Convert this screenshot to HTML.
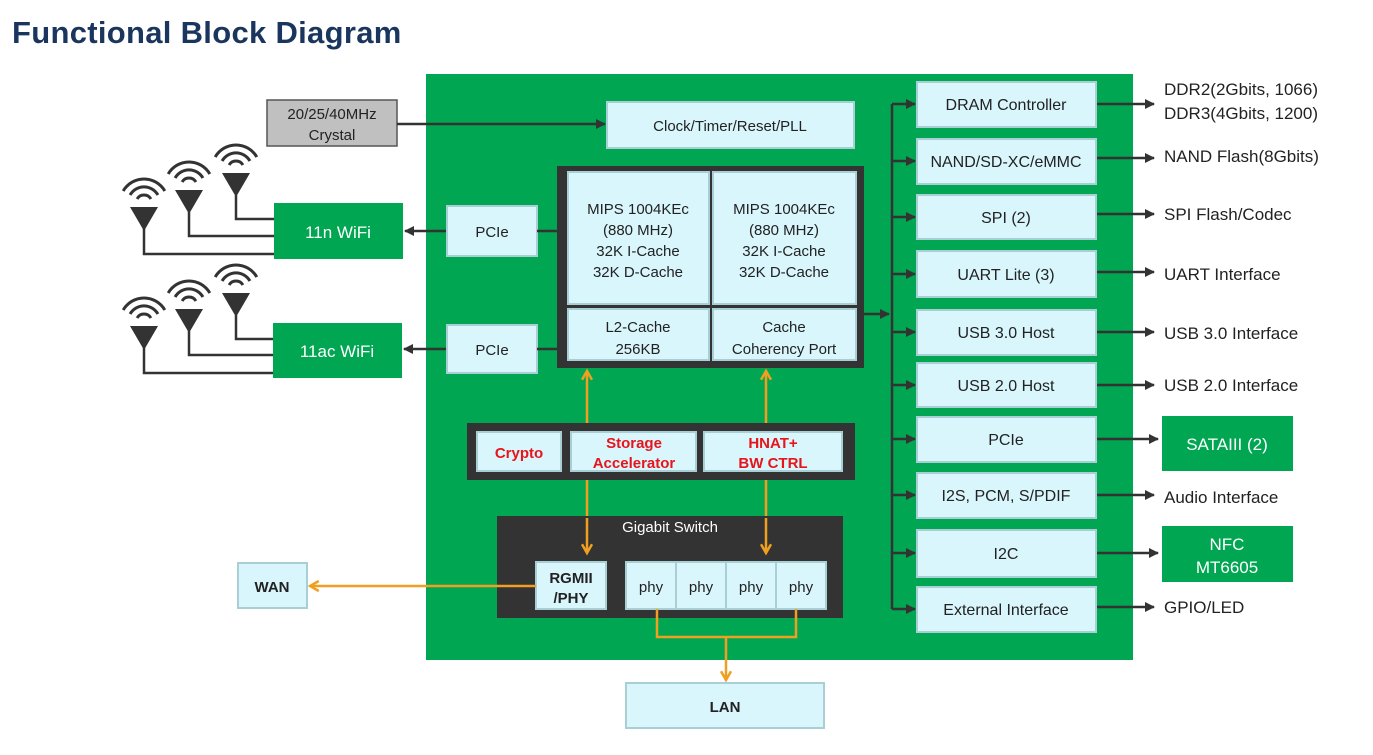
<!DOCTYPE html>
<html><head><meta charset="utf-8"><style>
html,body{margin:0;padding:0;background:#fff;}
svg{display:block;font-family:"Liberation Sans",sans-serif;}
.lb{fill:#d8f6fc;stroke:#a9cfd6;stroke-width:2;}
.t{font-size:15px;fill:#222;text-anchor:middle;}
.tr{font-size:17px;fill:#222;}
.w{font-size:17px;fill:#fff;text-anchor:middle;}
.red{font-size:15px;fill:#e8141b;font-weight:bold;text-anchor:middle;}
.ln{stroke:#333;stroke-width:2.5;fill:none;}
.or{stroke:#f0a020;stroke-width:2.5;fill:none;}
</style></head><body>
<svg width="1373" height="755" viewBox="0 0 1373 755">
<defs>
<marker id="a" viewBox="0 0 10 10" refX="9" refY="5" markerWidth="4" markerHeight="4" orient="auto"><path d="M0,0L10,5L0,10z" fill="#333"/></marker>
<marker id="o" viewBox="0 0 10 10" refX="8" refY="5" markerWidth="5" markerHeight="5" orient="auto"><path d="M1,1L8,5L1,9" fill="none" stroke="#f0a020" stroke-width="2"/></marker>
<g id="an"><polygon points="-14,0 14,0 0,24" fill="#333"/><path d="M-6.9 -8A8 8 0 0 1 6.9 -8M-13.9 -12A16 16 0 0 1 13.9 -12M-20.8 -16A24 24 0 0 1 20.8 -16" stroke="#333" stroke-width="3" fill="none"/></g>
</defs>
<text x="12" y="43" style="font-size:31px;font-weight:bold;fill:#1a365f;letter-spacing:0.3px">Functional Block Diagram</text>

<rect x="426" y="74" width="707" height="586" fill="#00a651"/>

<rect x="267" y="100" width="130" height="46" fill="#c0c0c0" stroke="#555" stroke-width="1.5"/>
<text class="t" x="332" y="119">20/25/40MHz</text><text class="t" x="332" y="140">Crystal</text>
<line class="ln" x1="397" y1="124" x2="605" y2="124" marker-end="url(#a)"/>
<rect class="lb" x="607" y="102" width="247" height="46"/>
<text class="t" x="730" y="131">Clock/Timer/Reset/PLL</text>

<use href="#an" x="144" y="207"/><use href="#an" x="189" y="190"/><use href="#an" x="236" y="173"/>
<path class="ln" d="M144 228V254H274M189 212V236H274M236 195V219H274"/>
<use href="#an" x="144" y="326"/><use href="#an" x="189" y="309"/><use href="#an" x="236" y="293"/>
<path class="ln" d="M144 347V373H274M189 331V355H274M236 315V339H274"/>
<rect x="274" y="203" width="129" height="56" fill="#00a651"/><text class="w" x="338" y="238">11n WiFi</text>
<rect x="273" y="323" width="129" height="55" fill="#00a651"/><text class="w" x="337" y="357">11ac WiFi</text>
<line class="ln" x1="447" y1="231" x2="405" y2="231" marker-end="url(#a)"/>
<line class="ln" x1="447" y1="349" x2="404" y2="349" marker-end="url(#a)"/>
<rect class="lb" x="447" y="206" width="90" height="50"/><text class="t" x="492" y="237">PCIe</text>
<rect class="lb" x="447" y="325" width="90" height="48"/><text class="t" x="492" y="355">PCIe</text>
<line class="ln" x1="537" y1="231" x2="557" y2="231"/><line class="ln" x1="537" y1="349" x2="557" y2="349"/>

<rect x="557" y="166" width="307" height="202" fill="#333"/>
<rect class="lb" x="568" y="172" width="141" height="132"/>
<rect class="lb" x="713" y="172" width="143" height="132"/>
<rect class="lb" x="568" y="309" width="141" height="51"/>
<rect class="lb" x="713" y="309" width="143" height="51"/>
<g class="t"><text x="638" y="214">MIPS 1004KEc</text><text x="638" y="235">(880 MHz)</text><text x="638" y="256">32K I-Cache</text><text x="638" y="277">32K D-Cache</text>
<text x="784" y="214">MIPS 1004KEc</text><text x="784" y="235">(880 MHz)</text><text x="784" y="256">32K I-Cache</text><text x="784" y="277">32K D-Cache</text>
<text x="638" y="332">L2-Cache</text><text x="638" y="354">256KB</text>
<text x="784" y="332">Cache</text><text x="784" y="354">Coherency Port</text></g>

<path class="or" d="M587 423V371" marker-end="url(#o)"/><path class="or" d="M766 423V371" marker-end="url(#o)"/>
<path class="or" d="M587 480V553" marker-end="url(#o)"/><path class="or" d="M766 480V553" marker-end="url(#o)"/>
<rect x="467" y="423" width="388" height="57" fill="#333"/>
<rect class="lb" x="477" y="432" width="84" height="39"/><rect class="lb" x="571" y="432" width="125" height="39"/><rect class="lb" x="704" y="432" width="138" height="39"/>
<text class="red" x="519" y="458">Crypto</text><text class="red" x="634" y="448">Storage</text><text class="red" x="634" y="468">Accelerator</text>
<text class="red" x="773" y="448">HNAT+</text><text class="red" x="773" y="468">BW CTRL</text>

<rect x="497" y="516" width="346" height="102" fill="#333"/>
<text x="670" y="532" style="font-size:15px;fill:#fff;text-anchor:middle">Gigabit Switch</text>
<path class="or" d="M587 518V553" marker-end="url(#o)"/><path class="or" d="M766 518V553" marker-end="url(#o)"/>
<rect class="lb" x="536" y="562" width="70" height="47"/><text x="571" y="583" style="font-size:15px;font-weight:bold;fill:#222;text-anchor:middle">RGMII</text><text x="571" y="603" style="font-size:15px;font-weight:bold;fill:#222;text-anchor:middle">/PHY</text>
<rect class="lb" x="626" y="562" width="50" height="47"/><rect class="lb" x="676" y="562" width="50" height="47"/><rect class="lb" x="726" y="562" width="50" height="47"/><rect class="lb" x="776" y="562" width="50" height="47"/>
<g class="t"><text x="651" y="592">phy</text><text x="701" y="592">phy</text><text x="751" y="592">phy</text><text x="801" y="592">phy</text></g>
<path class="or" d="M536 586H310" marker-end="url(#o)"/>
<rect class="lb" x="238" y="563" width="69" height="45"/><text x="272" y="592" style="font-size:15px;font-weight:bold;fill:#222;text-anchor:middle">WAN</text>
<path class="or" d="M657 609V637H796V609M726 637V680" marker-end="url(#o)"/>
<rect class="lb" x="626" y="683" width="198" height="45"/><text x="725" y="712" style="font-size:15px;font-weight:bold;fill:#222;text-anchor:middle">LAN</text>

<line class="ln" x1="864" y1="314" x2="889" y2="314" marker-end="url(#a)"/>
<line class="ln" x1="892" y1="104" x2="892" y2="609"/>
<g class="ln">
<line x1="892" y1="104" x2="915" y2="104" marker-end="url(#a)"/>
<line x1="892" y1="161" x2="915" y2="161" marker-end="url(#a)"/>
<line x1="892" y1="217" x2="915" y2="217" marker-end="url(#a)"/>
<line x1="892" y1="274" x2="915" y2="274" marker-end="url(#a)"/>
<line x1="892" y1="332" x2="915" y2="332" marker-end="url(#a)"/>
<line x1="892" y1="385" x2="915" y2="385" marker-end="url(#a)"/>
<line x1="892" y1="439" x2="915" y2="439" marker-end="url(#a)"/>
<line x1="892" y1="495" x2="915" y2="495" marker-end="url(#a)"/>
<line x1="892" y1="553" x2="915" y2="553" marker-end="url(#a)"/>
<line x1="892" y1="609" x2="915" y2="609" marker-end="url(#a)"/>
<line x1="1096" y1="104" x2="1154" y2="104" marker-end="url(#a)"/>
<line x1="1096" y1="158" x2="1154" y2="158" marker-end="url(#a)"/>
<line x1="1096" y1="214" x2="1154" y2="214" marker-end="url(#a)"/>
<line x1="1096" y1="272" x2="1154" y2="272" marker-end="url(#a)"/>
<line x1="1096" y1="332" x2="1154" y2="332" marker-end="url(#a)"/>
<line x1="1096" y1="385" x2="1154" y2="385" marker-end="url(#a)"/>
<line x1="1096" y1="439" x2="1158" y2="439" marker-end="url(#a)"/>
<line x1="1096" y1="495" x2="1154" y2="495" marker-end="url(#a)"/>
<line x1="1096" y1="553" x2="1158" y2="553" marker-end="url(#a)"/>
<line x1="1096" y1="607" x2="1154" y2="607" marker-end="url(#a)"/>
</g>
<g>
<rect class="lb" x="917" y="82" width="179" height="45"/><rect class="lb" x="917" y="139" width="179" height="45"/>
<rect class="lb" x="917" y="195" width="179" height="44"/><rect class="lb" x="917" y="251" width="179" height="46"/>
<rect class="lb" x="917" y="310" width="179" height="45"/><rect class="lb" x="917" y="363" width="179" height="44"/>
<rect class="lb" x="917" y="417" width="179" height="45"/><rect class="lb" x="917" y="473" width="179" height="45"/>
<rect class="lb" x="917" y="530" width="179" height="47"/><rect class="lb" x="917" y="587" width="179" height="45"/>
</g>
<g class="t" style="font-size:16px">
<text x="1006" y="110">DRAM Controller</text><text x="1006" y="167">NAND/SD-XC/eMMC</text>
<text x="1006" y="223">SPI (2)</text><text x="1006" y="280">UART Lite (3)</text>
<text x="1006" y="338">USB 3.0 Host</text><text x="1006" y="391">USB 2.0 Host</text>
<text x="1006" y="445">PCIe</text><text x="1006" y="501">I2S, PCM, S/PDIF</text>
<text x="1006" y="559">I2C</text><text x="1006" y="615">External Interface</text>
</g>
<g class="tr">
<text x="1164" y="95">DDR2(2Gbits, 1066)</text><text x="1164" y="119">DDR3(4Gbits, 1200)</text>
<text x="1164" y="162">NAND Flash(8Gbits)</text><text x="1164" y="220">SPI Flash/Codec</text>
<text x="1164" y="280">UART Interface</text><text x="1164" y="339">USB 3.0 Interface</text>
<text x="1164" y="391">USB 2.0 Interface</text><text x="1164" y="503">Audio Interface</text>
<text x="1164" y="613">GPIO/LED</text>
</g>
<rect x="1162" y="416" width="131" height="55" fill="#00a651"/><text class="w" x="1227" y="450">SATAIII (2)</text>
<rect x="1162" y="526" width="131" height="56" fill="#00a651"/><text class="w" x="1227" y="550">NFC</text><text class="w" x="1227" y="573">MT6605</text>
</svg>
</body></html>
